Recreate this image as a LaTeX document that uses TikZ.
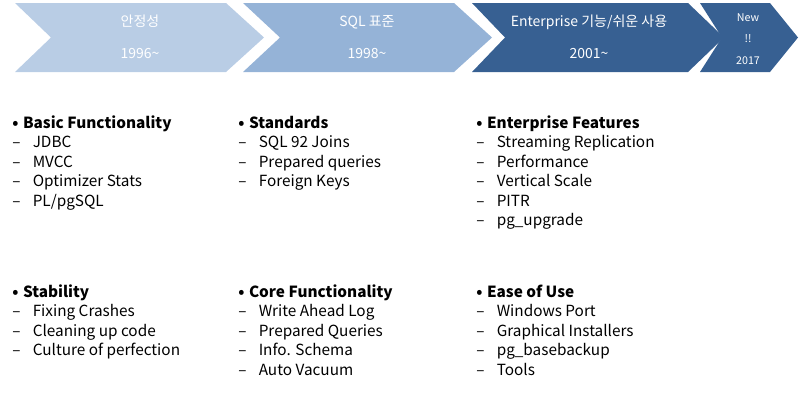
\documentclass[tikz,border=0pt]{standalone}
\usepackage{fontspec}
\setmainfont{Noto Sans CJK KR}
\begin{document}
\begin{tikzpicture}[x=0.75pt,y=-0.75pt,
 hd/.style={anchor=base west,font=\fontsize{11.5}{13}\selectfont\bfseries,inner sep=0},
 it/.style={anchor=base west,font=\fontsize{11.5}{13}\selectfont,inner sep=0},
 wt/.style={anchor=base,text=white,font=\fontsize{10.5}{12}\selectfont,inner sep=0},
 wt2/.style={anchor=base,text=white,font=\fontsize{8}{9}\selectfont,inner sep=0}]
\definecolor{c1}{HTML}{B9CDE5}\definecolor{c2}{HTML}{95B3D7}\definecolor{c3}{HTML}{376092}
\useasboundingbox (0,0) rectangle (800,405);
\fill[c1] (15,3)--(226,3)--(264,37.5)--(226,72)--(15,72)--(51,37.5)--cycle;
\fill[c2] (243,3)--(454,3)--(492,37.5)--(454,72)--(243,72)--(280,37.5)--cycle;
\fill[c3] (472,3)--(688,3)--(724,37.5)--(688,72)--(472,72)--(505,37.5)--cycle;
\fill[c3] (700,3)--(770,3)--(798,37.5)--(770,72)--(700,72)--(722,37.5)--cycle;
\node[wt] (a1) at (140,26) {안정성};
\node[wt] (a2) at (140,58) {1996\textasciitilde};
\node[wt] (b1) at (367,26) {SQL 표준};
\node[wt] (b2) at (367,58) {1998\textasciitilde};
\node[wt] (c1) at (589,26) {Enterprise 기능/쉬운 사용};
\node[wt] (c2) at (589,58) {2001\textasciitilde};
\node[wt2] (d1) at (748,21) {New};
\node[wt2] (d2) at (748,42) {!!};
\node[wt2] (d3) at (748,64) {2017};
\def\col#1#2#3{%
 \foreach \t [count=\i] in {#3} {\node[it] at (#1,#2+\i*19.5) {–\hspace{0.8em}\t};}}
\node[hd] (h1) at (12,128) {•\hspace{0.3em}Basic Functionality};
\col{12}{128}{JDBC,MVCC,Optimizer Stats,PL/pgSQL}
\node[hd] (h2) at (238,128) {•\hspace{0.3em}Standards};
\col{238}{128}{SQL 92 Joins,Prepared queries,Foreign Keys}
\node[hd] (h3) at (476,128) {•\hspace{0.3em}Enterprise Features};
\col{476}{128}{Streaming Replication,Performance,Vertical Scale,PITR,pg\_upgrade}
\node[hd] (h4) at (12,297) {•\hspace{0.3em}Stability};
\col{12}{297}{Fixing Crashes,Cleaning up code,Culture of perfection}
\node[hd] (h5) at (238,297) {•\hspace{0.3em}Core Functionality};
\col{238}{297}{Write Ahead Log,Prepared Queries,Info. Schema,Auto Vacuum}
\node[hd] (h6) at (476,297) {•\hspace{0.3em}Ease of Use};
\col{476}{297}{Windows Port,Graphical Installers,pg\_basebackup,Tools}
\end{tikzpicture}
\end{document}
